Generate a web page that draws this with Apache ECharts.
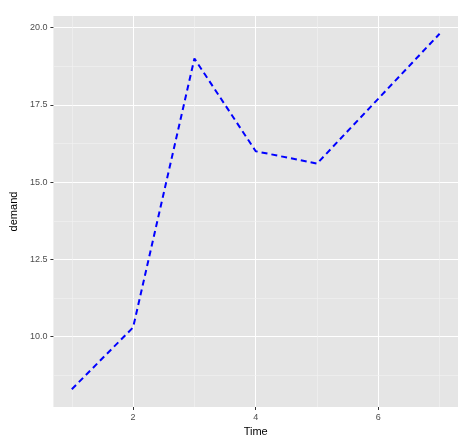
<!DOCTYPE html>
<html>
<head>
<meta charset="utf-8">
<script src="https://cdn.jsdelivr.net/npm/echarts@6/dist/echarts.min.js"></script>
<style>html,body{margin:0;padding:0;background:#fff}#chart{width:474px;height:445px}</style>
</head>
<body>
<div id="chart"></div>
<script>
var time = [1, 2, 3, 4, 5, 7]
var demand = [8.3, 10.3, 19.0, 16.0, 15.6, 19.8]
var xMajor = [2, 4, 6]
var xMinor = [1, 3, 5, 7]
var yMajor = [10, 12.5, 15, 17.5, 20]
var yMinor = [8.75, 11.25, 13.75, 16.25, 18.75]

var chart = echarts.init(document.getElementById('chart'))

var minorLines = []
xMinor.forEach(function (v) { minorLines.push({ xAxis: v }) })
yMinor.forEach(function (v) { minorLines.push({ yAxis: v }) })

chart.setOption({
  animation: false,
  grid: {
    left: 48, right: 16, top: 16, bottom: 38,
    show: true, backgroundColor: '#E5E5E5', borderWidth: 0
  },
  xAxis: {
    type: 'value', min: 0.7, max: 7.3,
    name: 'Time', nameLocation: 'middle', nameGap: 18,
    nameTextStyle: { color: '#000', fontSize: 11, fontFamily: 'Liberation Sans' },
    axisLine: { show: false },
    axisTick: { show: true, length: 3, lineStyle: { color: '#333' }, customValues: xMajor },
    axisLabel: { color: '#4D4D4D', fontSize: 9, margin: 6, customValues: xMajor },
    splitLine: { show: true, lineStyle: { color: '#fff', width: 1 } }
  },
  yAxis: {
    type: 'value', min: 7.725, max: 20.375,
    name: 'demand', nameLocation: 'middle', nameGap: 32,
    nameTextStyle: { color: '#000', fontSize: 11, fontFamily: 'Liberation Sans' },
    axisLine: { show: false },
    axisTick: { show: true, length: 3, lineStyle: { color: '#333' }, customValues: yMajor },
    axisLabel: { color: '#4D4D4D', fontSize: 9, margin: 6, customValues: yMajor,
      formatter: function (v) { return v.toFixed(1) } },
    splitLine: { show: true, lineStyle: { color: '#fff', width: 1 } }
  },
  series: [{
    type: 'line',
    data: time.map(function (t, i) { return [t, demand[i]] }),
    symbol: 'none',
    lineStyle: { color: '#0000FF', width: 2, type: [6, 4] },
    z: 3,
    markLine: {
      silent: true, symbol: 'none', label: { show: false },
      lineStyle: { color: '#F2F2F2', width: 0.6, type: 'solid' },
      data: minorLines, z: 1
    }
  }]
})
</script>
</body>
</html>
